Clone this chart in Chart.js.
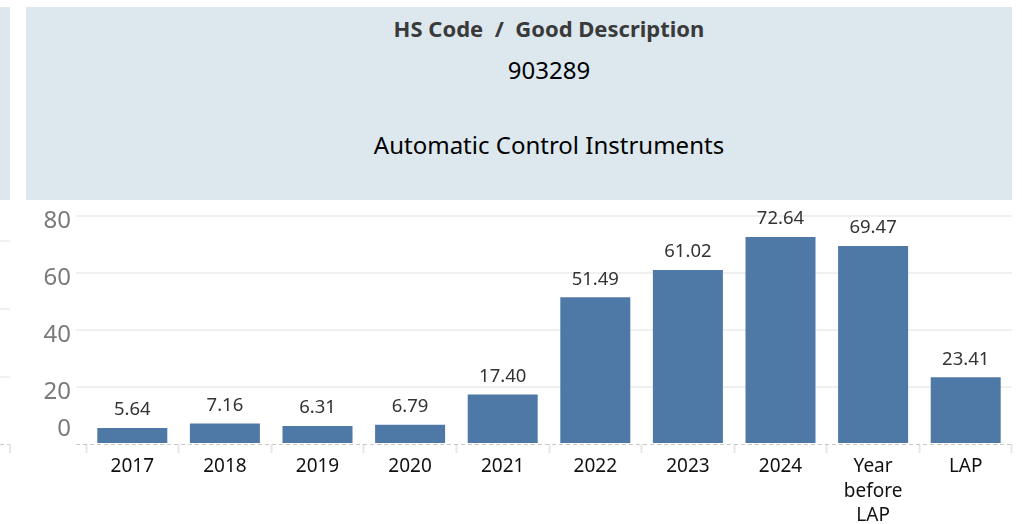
<!DOCTYPE html>
<html>
<head>
<meta charset="utf-8">
<script src="https://cdn.jsdelivr.net/npm/chart.js@4.4.1/dist/chart.umd.min.js"></script>
<style>
  body { margin: 0; background: #fff; font-family: 'Noto Sans', sans-serif; }
  #wrap { position: relative; width: 1022px; height: 524px; overflow: hidden; }
  #chart { position: absolute; left: 0; top: 0; }
  .panel { position: absolute; background: #dce8ee; }
  #hdrLeft  { left: 0; top: 7px; width: 10px; height: 193px; }
  #hdrMain  { left: 26px; top: 7px; width: 986px; height: 193px; text-align: center; color: #000; }
  #hdrMain div { position: absolute; left: 60px; right: 0; line-height: 1; }
  #hdrMain .t1 { top: 10px; font-size: 22px; font-weight: bold; color: #3a3a3a; }
  #hdrMain .t2 { top: 51px; font-size: 24px; }
  #hdrMain .t3 { top: 126px; font-size: 24px; }
</style>
</head>
<body>
<div id="wrap">
  <canvas id="chart" width="1022" height="524"></canvas>
  <div class="panel" id="hdrLeft"></div>
  <div class="panel" id="hdrMain">
    <div class="t1">HS Code&nbsp;&nbsp;/&nbsp;&nbsp;Good Description</div>
    <div class="t2">903289</div>
    <div class="t3">Automatic Control Instruments</div>
  </div>
</div>
<script>
// ── Data ──────────────────────────────────────────────────────────────────────
const CATEGORIES = ['2017', '2018', '2019', '2020', '2021', '2022', '2023', '2024', ['Year', 'before', 'LAP'], 'LAP'];
const VALUES     = [5.64, 7.16, 6.31, 6.79, 17.40, 51.49, 61.02, 72.64, 69.47, 23.41];
const Y_TICKS    = [0, 20, 40, 60, 80];

const BAR_COLOR  = '#4e79a7';
const GRID_COLOR = '#f0f0f0';

// ── Plugin: value labels above bars, dashed zero line, left stub panel ───────
const decorPlugin = {
  id: 'decor',
  beforeDatasetsDraw(chart) {
    const { ctx, scales: { y }, chartArea } = chart;
    const y0 = Math.round(y.getPixelForValue(0));
    ctx.save();
    // neighbour panel stub on the far left (gridlines of a cropped pane)
    ctx.strokeStyle = GRID_COLOR;
    ctx.lineWidth = 2;
    [241, 309, 377].forEach(py => {
      ctx.beginPath(); ctx.moveTo(0, py); ctx.lineTo(10, py); ctx.stroke();
    });
    // dashed zero line
    ctx.strokeStyle = '#c8c8c8';
    ctx.lineWidth = 1;
    ctx.setLineDash([4, 3]);
    ctx.beginPath();
    ctx.moveTo(0, y0 + 0.5); ctx.lineTo(10, y0 + 0.5);
    ctx.moveTo(chartArea.left - 10, y0 + 0.5); ctx.lineTo(chartArea.right, y0 + 0.5);
    ctx.stroke();
    ctx.setLineDash([]);
    ctx.strokeStyle = '#e6e6e6';
    ctx.lineWidth = 2;
    ctx.beginPath(); ctx.moveTo(10, y0); ctx.lineTo(10, y0 + 9); ctx.stroke();
    // the "0" tick label sits above its line
    ctx.fillStyle = '#7a7a7a';
    ctx.font = "24px 'Noto Sans', sans-serif";
    ctx.textAlign = 'right';
    ctx.textBaseline = 'middle';
    ctx.fillText('0', chartArea.left - 15, y0 - 15);
    ctx.restore();
  },
  afterDatasetsDraw(chart) {
    const { ctx } = chart;
    const meta = chart.getDatasetMeta(0);
    ctx.save();
    ctx.fillStyle = '#333';
    ctx.font = "18.5px 'Noto Sans', sans-serif";
    ctx.textAlign = 'center';
    ctx.textBaseline = 'middle';
    meta.data.forEach((bar, i) => {
      ctx.fillText(VALUES[i].toFixed(2), bar.x, bar.y - 18);
    });
    ctx.restore();
  }
};

new Chart(document.getElementById('chart'), {
  type: 'bar',
  data: {
    labels: CATEGORIES,
    datasets: [{
      data: VALUES,
      backgroundColor: BAR_COLOR,
      borderWidth: 0,
      categoryPercentage: 1,
      barPercentage: 0.756,
    }],
  },
  options: {
    responsive: false,
    animation: false,
    layout: { padding: { top: 216, right: 10, left: 0, bottom: 0 } },
    scales: {
      x: {
        grid: { drawOnChartArea: false, drawTicks: true, tickLength: 9, tickColor: '#e6e6e6', tickWidth: 2 },
        border: { display: false },
        ticks: {
          color: '#111',
          font: { family: "'Noto Sans', sans-serif", size: 19, lineHeight: 1.27 },
          padding: 2,
          maxRotation: 0,
          autoSkip: false,
        },
        afterFit: s => { s.height = 80; },
      },
      y: {
        min: 0,
        max: 80,
        afterBuildTicks: s => { s.ticks = Y_TICKS.map(v => ({ value: v })); },
        grid: {
          color: c => c.tick && c.tick.value === 0 ? 'rgba(0,0,0,0)' : GRID_COLOR,
          lineWidth: 2,
          drawTicks: true,
          tickLength: 10,
        },
        border: { display: false },
        ticks: {
          color: '#7a7a7a',
          font: { family: "'Noto Sans', sans-serif", size: 24 },
          padding: 5,
          labelOffset: 5,
          callback: v => v === 0 ? '' : v,
        },
        afterFit: s => { s.width = 86; },
      },
    },
    plugins: { legend: { display: false }, tooltip: { enabled: false } },
  },
  plugins: [decorPlugin],
});
</script>
</body>
</html>
